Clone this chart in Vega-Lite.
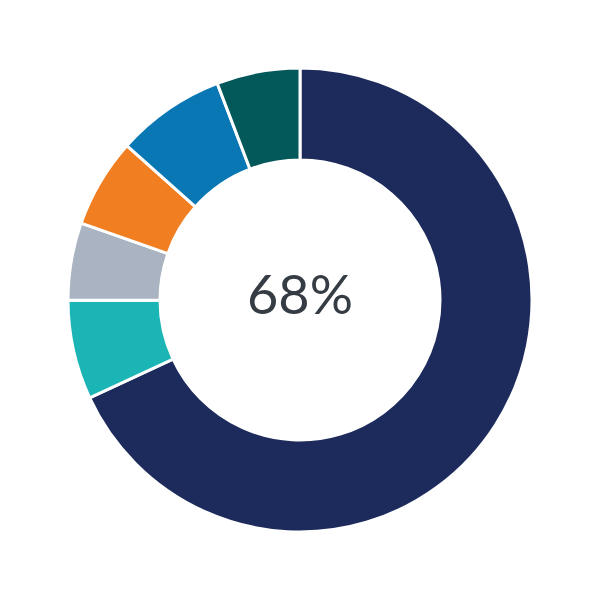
{
  "$schema": "https://vega.github.io/schema/vega-lite/v6.json",
  "autosize": {"type": "fit", "contains": "padding"},
  "width": 600,
  "height": 600,
  "background": "white",
  "view": {"stroke": null},
  "data": {
    "values": [
      {"segment": "A", "order": 1, "value": 68.0},
      {"segment": "B", "order": 2, "value": 6.9},
      {"segment": "C", "order": 3, "value": 5.4},
      {"segment": "D", "order": 4, "value": 6.2},
      {"segment": "E", "order": 5, "value": 7.6},
      {"segment": "F", "order": 6, "value": 5.8}
    ]
  },
  "layer": [
    {
      "mark": {"type": "arc", "outerRadius": 232, "innerRadius": 140, "stroke": "white", "strokeWidth": 3},
      "encoding": {
        "theta": {"field": "value", "type": "quantitative", "stack": true},
        "order": {"field": "order", "type": "quantitative", "sort": "ascending"},
        "color": {
          "field": "segment",
          "type": "nominal",
          "legend": null,
          "scale": {
            "domain": ["A", "B", "C", "D", "E", "F"],
            "range": ["#1c2b5b", "#1cb5b6", "#a9b3c1", "#f17e21", "#0877b4", "#03585a"]
          }
        }
      }
    },
    {
      "data": {"values": [{"label": "68%"}]},
      "mark": {"type": "text", "font": "Lato", "fontWeight": "normal", "fontSize": 54, "color": "#363c43", "align": "center", "baseline": "middle", "dy": -2},
      "encoding": {"text": {"field": "label"}}
    }
  ]
}
